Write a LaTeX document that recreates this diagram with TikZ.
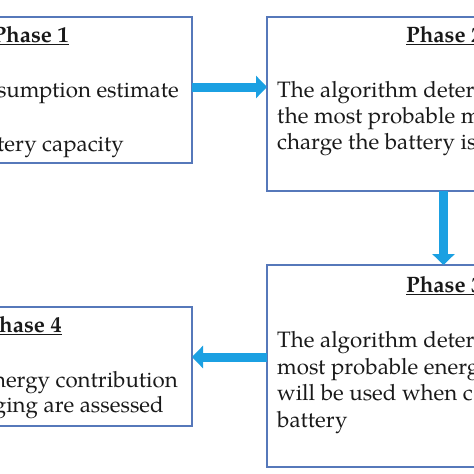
\documentclass[tikz,border=0pt]{standalone}
\usepackage{fontspec}
\setmainfont{texgyrepagella}[Extension=.otf, UprightFont=*-regular, BoldFont=*-bold]
\usepackage{tikz}
\usetikzlibrary{arrows.meta}
\definecolor{boxline}{RGB}{86,120,186}
\definecolor{flowblue}{RGB}{27,160,226}
\definecolor{ink}{RGB}{25,25,25}
\tikzset{phase/.style={draw=boxline, line width=1.2pt, fill=white, inner sep=0pt, outer sep=0pt},
  flow/.style={draw=flowblue, line width=9pt, -{Triangle[width=22pt,length=11pt]}},
  txt/.style={inner sep=0pt, text=ink, font=\fontsize{22.3}{27}\selectfont},
  head/.style={txt, font=\fontsize{22.3}{27}\selectfont\bfseries}}

\begin{document}
\begin{tikzpicture}[x=1pt, y=-1pt]
    \useasboundingbox (0,0) rectangle (474,474);
    \clip (0,0) rectangle (474,474);
    \fill[white] (0,0) rectangle (474,474);
    % boxes
    \node[phase, minimum width=342pt, minimum height=146pt] (p1) at (21,90) {};
    \node[phase, minimum width=333pt, minimum height=174pt] (p2) at (433.5,104) {};
    \node[phase, minimum width=333pt, minimum height=202pt] (p3) at (433.5,366) {};
    \node[phase, minimum width=342pt, minimum height=119pt] (p4) at (21,366.5) {};
    % texts
    \node[head, anchor=base east] (h1) at (69,42) {\underline{Phase 1}};
    \node[txt, anchor=base east] (t11) at (179,97) {sumption estimate};
    \node[txt, anchor=base east] (t12) at (124,151) {tery capacity};
    \node[head, anchor=base west] (h2) at (406,42) {\underline{Phase 2}};
    \node[txt, anchor=base west] (t21) at (277,97) {The algorithm deter};
    \node[txt, anchor=base west] (t22) at (277,123) {the most probable m};
    \node[txt, anchor=base west] (t23) at (277,149) {charge the battery is};
    \node[head, anchor=base west] (h3) at (406,292) {\underline{Phase 3}};
    \node[txt, anchor=base west] (t31) at (277,347) {The algorithm deter};
    \node[txt, anchor=base west] (t32) at (277,374) {most probable energ};
    \node[txt, anchor=base west] (t33) at (277,400) {will be used when c};
    \node[txt, anchor=base west] (t34) at (277,427) {battery};
    \node[head, anchor=base east] (h4) at (62,332) {\underline{Phase 4}};
    \node[txt, anchor=base east] (t41) at (178,387) {nergy contribution};
    \node[txt, anchor=base east] (t42) at (164,412) {ging are assessed};
    % arrows
    \coordinate (r12) at (0,87);
    \coordinate (r23) at (443.5,0);
    \coordinate (r34) at (0,357);
    \draw[flow] (r12 -| p1.east) -- (r12 -| p2.west);
    \draw[flow] (r23 |- p2.south) -- (r23 |- p3.north);
    \draw[flow] (r34 -| p3.west) -- (r34 -| p4.east);
\end{tikzpicture}
\end{document}
